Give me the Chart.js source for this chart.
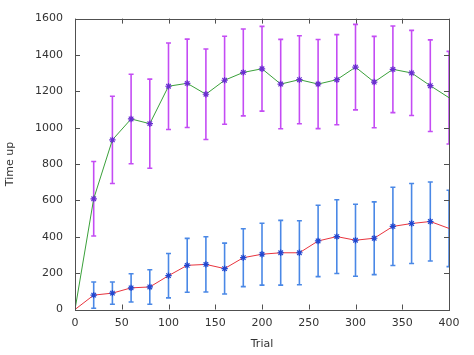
<!DOCTYPE html>
<html>
<head>
<meta charset="utf-8">
<script src="https://cdn.jsdelivr.net/npm/chart.js@4/dist/chart.umd.min.js"></script>
<style>
html,body{margin:0;padding:0;background:#fff;}
#wrap{width:474px;height:355px;position:relative;}
</style>
</head>
<body>
<div id="wrap"><canvas id="c" width="474" height="355"></canvas></div>
<script>
const trials = [0,20,40,60,80,100,120,140,160,180,200,220,240,260,280,300,320,340,360,380,400];
const timeA = [0,609,933,1048,1022,1228,1244,1184,1261,1304,1324,1240,1264,1240,1264,1333,1251,1321,1301,1231,1165];
const errA  = [0,205,240,246,245,238,243,249,242,239,233,246,242,245,248,235,251,238,234,252,255];
const timeB = [0,79,90,119,124,186,243,248,225,285,304,312,312,377,401,381,392,457,473,484,446];
const errB  = [0,72,61,78,95,122,148,152,140,159,170,178,176,196,203,198,200,215,220,217,210];
const xTicks = [0,50,100,150,200,250,300,350,400];
const yTicks = [0,200,400,600,800,1000,1200,1400,1600];

const FRAME = '#505050';
const TEXT = '#333333';

const errorBars = {
  id: 'errorBars',
  beforeDatasetsDraw(chart) {
    const {ctx, chartArea, scales} = chart;
    ctx.save();
    ctx.beginPath();
    ctx.rect(chartArea.left, chartArea.top, chartArea.right - chartArea.left, chartArea.bottom - chartArea.top);
    ctx.clip();
    chart.data.datasets.forEach(ds => {
      const errs = ds.errors;
      ctx.strokeStyle = ds.errorColor;
      ctx.lineWidth = 1.6;
      ds.data.forEach((v, i) => {
        if (!errs[i]) return;
        const x = scales.x.getPixelForValue(trials[i]);
        const yt = scales.y.getPixelForValue(v + errs[i]);
        const yb = scales.y.getPixelForValue(v - errs[i]);
        ctx.beginPath();
        ctx.moveTo(x, yt); ctx.lineTo(x, yb);
        ctx.moveTo(x - 2.5, yt); ctx.lineTo(x + 2.5, yt);
        ctx.moveTo(x - 2.5, yb); ctx.lineTo(x + 2.5, yb);
        ctx.stroke();
      });
    });
    ctx.restore();
  },
  afterDraw(chart) {
    const {ctx, chartArea, scales} = chart;
    const {left, right, top, bottom} = chartArea;
    ctx.save();
    ctx.strokeStyle = FRAME;
    ctx.lineWidth = 1;
    ctx.beginPath();
    scales.x.ticks.forEach(t => {
      const x = Math.round(scales.x.getPixelForValue(t.value)) + 0.5;
      ctx.moveTo(x, bottom); ctx.lineTo(x, bottom - 5);
      ctx.moveTo(x, top); ctx.lineTo(x, top + 5);
    });
    scales.y.ticks.forEach(t => {
      const y = Math.round(scales.y.getPixelForValue(t.value)) + 0.5;
      ctx.moveTo(left, y); ctx.lineTo(left + 5, y);
      ctx.moveTo(right, y); ctx.lineTo(right - 5, y);
    });
    ctx.stroke();
    ctx.strokeRect(Math.round(left) + 0.5, Math.round(top) + 0.5, Math.round(right - left), Math.round(bottom - top));
    ctx.restore();
  }
};

const radii = trials.map((t, i) => (i === 0 || i === trials.length - 1) ? 0 : 3.2);

new Chart(document.getElementById('c'), {
  type: 'line',
  data: {
    labels: trials,
    datasets: [
      {
        data: timeA, errors: errA, errorColor: '#c44cf4',
        borderColor: '#3aa03a', borderWidth: 1,
        pointStyle: 'star', pointRadius: radii,
        pointBorderColor: '#6a2fd0', pointBackgroundColor: '#6a2fd0', pointBorderWidth: 1.2,
        clip: 0, tension: 0
      },
      {
        data: timeB, errors: errB, errorColor: '#4a88e6',
        borderColor: '#e8343e', borderWidth: 1,
        pointStyle: 'star', pointRadius: radii,
        pointBorderColor: '#2248d0', pointBackgroundColor: '#2248d0', pointBorderWidth: 1.2,
        clip: 0, tension: 0
      }
    ]
  },
  options: {
    responsive: false,
    animation: false,
    layout: {padding: {top: 16, right: 25, left: 0, bottom: 0}},
    plugins: {legend: {display: false}, tooltip: {enabled: false}},
    scales: {
      x: {
        type: 'linear', min: 0, max: 400,
        afterBuildTicks: s => { s.ticks = xTicks.map(v => ({value: v})); },
        afterFit: s => { s.height = 45.5; },
        grid: {display: false, drawTicks: false},
        border: {display: false},
        ticks: {color: TEXT, font: {family: 'DejaVu Sans', size: 11}, padding: 7, maxRotation: 0, callback: v => String(v)},
        title: {display: true, text: 'Trial', color: TEXT, font: {family: 'DejaVu Sans', size: 11}, padding: {top: 0, bottom: 4}}
      },
      y: {
        type: 'linear', min: 0, max: 1600,
        afterBuildTicks: s => { s.ticks = yTicks.map(v => ({value: v})); },
        afterFit: s => { s.width = 75; },
        grid: {display: false, drawTicks: false},
        border: {display: false},
        ticks: {color: TEXT, font: {family: 'DejaVu Sans', size: 11}, padding: 12, callback: v => String(v)},
        title: {display: true, text: 'Time up', color: TEXT, font: {family: 'DejaVu Sans', size: 11}, padding: {top: 4, bottom: 0}}
      }
    }
  },
  plugins: [errorBars]
});
</script>
</body>
</html>
